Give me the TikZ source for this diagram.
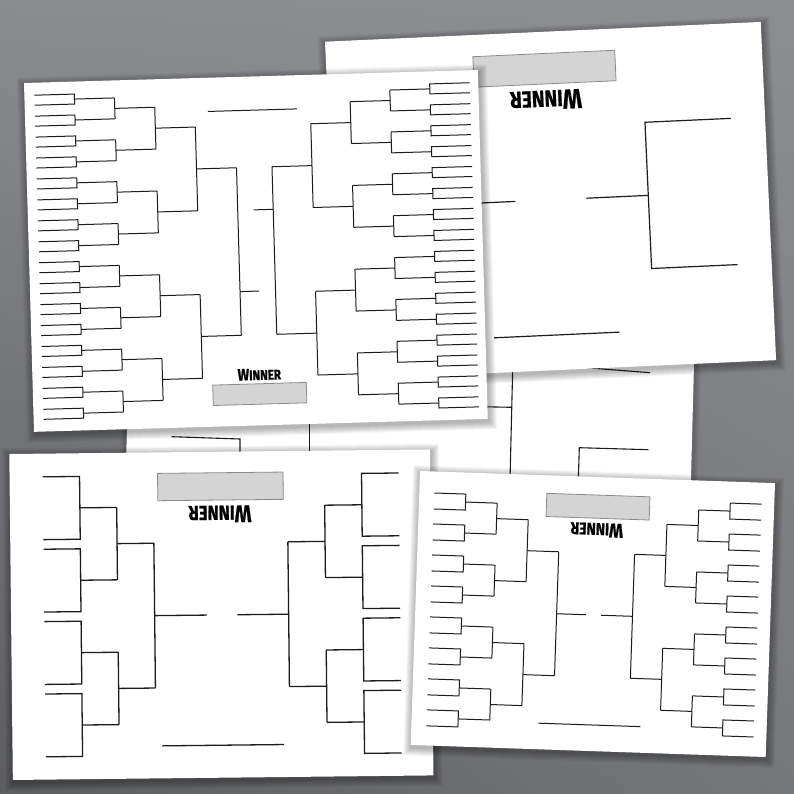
\documentclass[tikz,border=0pt]{standalone}
\usepackage{fontspec}
\usetikzlibrary{shadings}
\newfontfamily\winfont[FakeStretch=0.82,FakeBold=0.8]{Fira Sans}
\definecolor{ink}{HTML}{1C1C1C}
\definecolor{boxgray}{HTML}{D4D4D4}
\definecolor{boxedge}{HTML}{8A8A8A}
\definecolor{bgUL}{HTML}{8B8C90}
\definecolor{bgUR}{HTML}{8D8E92}
\definecolor{bgLL}{HTML}{5C5D60}
\definecolor{bgLR}{HTML}{76777A}
\tikzset{
  bl/.style={draw=ink,line width=1pt},
  gbox/.style={fill=boxgray,draw=boxedge,line width=0.8pt},
  wtext/.style={inner sep=0pt,transform shape,text=black}
}
% paper sheet with soft shadow, local coords (0,0)-(W,H)
\newcommand\paper[2]{%
  \foreach \s in {1,...,8}{\fill[black,opacity=0.04] ({-\s+1},{-\s+2.5}) rectangle ({#1+\s+1},{#2+\s+2.5});}%
  \fill[white] (0,0) rectangle (#1,#2);}
% WINNER in small caps style
\newcommand\winner[1]{\pgfmathsetmacro\wsz{0.85*#1}{\winfont\bfseries\fontsize{#1pt}{#1pt}\selectfont W\fontsize{\wsz pt}{\wsz pt}\selectfont INNER}}
% one side of a bracket: x0, dx, v0, pair pitch, in-pair gap, pairs, levels
\newcommand\bside[7]{%
  \pgfmathtruncatemacro\bnp{#6-1}%
  \foreach \m in {0,...,\bnp}{%
    \pgfmathsetmacro\ya{#3+#4*\m}%
    \pgfmathsetmacro\yb{\ya+#5}%
    \draw[bl] (#1,\ya) -- ++(#2,0) |- (#1,\yb);%
  }%
  \foreach \L in {1,...,#7}{%
    \pgfmathtruncatemacro\bcnt{#6/(2^(\L-1))-1}%
    \foreach \m in {0,...,\bcnt}{%
      \pgfmathsetmacro\xL{#1+\L*#2}%
      \pgfmathsetmacro\yL{#3+#5/2+#4*(2^(\L-1)*\m+(2^(\L-1)-1)/2)}%
      \draw[bl] (\xL,\yL) -- ++(#2,0);%
      \ifnum\L>1
        \pgfmathsetmacro\yA{#3+#5/2+#4*(2^(\L-2)*(2*\m)+(2^(\L-2)-1)/2)}%
        \pgfmathsetmacro\yB{#3+#5/2+#4*(2^(\L-2)*(2*\m+1)+(2^(\L-2)-1)/2)}%
        \draw[bl] (\xL,\yA) -- (\xL,\yB);%
      \fi
    }%
  }%
}
\begin{document}
\begin{tikzpicture}[x=1pt,y=-1pt]
\useasboundingbox (0,0) rectangle (794,794);
\shade[upper left=bgUL,upper right=bgUR,lower left=bgLL,lower right=bgLR] (0,0) rectangle (794,794);

% ---------- sheet E (behind, middle) ----------
\foreach \s in {1,...,6}{\fill[black,opacity=0.035] ({129.5-\s},{330-\s}) -- ({694.5+\s+1},{345-\s}) -- ({690.3+\s+1},{505+\s}) -- ({125.3-\s},{490+\s}) -- cycle;}
\fill[white] (129.5,330) -- (694.5,345) -- (690.3,505) -- (125.3,490) -- cycle;
\begin{scope}[bl/.style={draw=ink,line width=1.1pt}]
  \draw[bl] (171.7,436.7) -- (240,439) -- (240,460);
  \draw[bl] (309.3,420) -- (309.3,460);
  \draw[bl] (480,406.7) -- (511.7,407.3);
  \draw[bl] (512.9,360) -- (510,480);
  \draw[bl] (581,362) -- (581,367.3) -- (650,372.7);
  \draw[bl] (578.3,480) -- (579.3,447.7) -- (648.3,449.7);
\end{scope}

% ---------- sheet B (top right, upside-down design) ----------
\begin{scope}[shift={(325,41.7)},rotate=2.6,bl/.style={draw=ink,line width=1.2pt}]
  \paper{436.2}{338.6}
  \draw[gbox] (147,21.7) rectangle (289,52.2);
  \node[wtext,rotate=180] (wB) at (218.1,68.3) {\winner{27.4}};
  \draw[bl] (402,95) -- (316,95) -- (316,241.4) -- (402,241.4);
  \draw[bl] (316,168.2) -- (254,168.2);
  \draw[bl] (34,95) -- (120,95) -- (120,241.4) -- (34,241.4);
  \draw[bl] (120,168.2) -- (183,168.2);
  \draw[bl] (155.6,303.5) -- (281,303.5);
\end{scope}

% ---------- sheet A (top left, 64 teams) ----------
\begin{scope}[shift={(24,83)},rotate=1.64,bl/.style={draw=ink,line width=1pt}]
  \paper{454}{349}
  \bside{10}{40}{12.5}{20.95}{10}{16}{4}
  \bside{445.5}{-40}{12.5}{20.95}{10}{16}{4}
  \draw[bl] (210,90.8) -- (210,258.4);
  \draw[bl] (210,214.7) -- (229,214.7);
  \draw[bl] (245.5,90.8) -- (245.5,258.4);
  \draw[bl] (245.5,133.4) -- (226,133.4);
  \draw[bl] (183,33.7) -- (272,33.7);
  \draw[gbox] (180,307.4) rectangle (273.6,327.8);
  \node[wtext] (wA) at (226.9,297.9) {\winner{16.5}};
\end{scope}

% ---------- sheet C (bottom left, 16 teams) ----------
\begin{scope}[shift={(9.3,454)},rotate=0.62,bl/.style={draw=ink,line width=1.3pt}]
  \paper{420.7}{326}
  \bside{33.2}{36.8}{23.2}{72.4}{62.8}{4}{2}
  \bside{389.2}{-37.2}{23.2}{72.4}{62.8}{4}{2}
  \draw[bl] (143.6,90.8) -- (143.6,235.6);
  \draw[bl] (143.6,163.2) -- (195.7,163.2);
  \draw[bl] (277.6,90.8) -- (277.6,235.6);
  \draw[bl] (277.6,163.2) -- (226.3,163.2);
  \draw[bl] (150,293.5) -- (271.6,293.5);
  \draw[gbox] (148,21) rectangle (273.5,48.3);
  \node[wtext,rotate=180] (wC) at (210,62.3) {\winner{24}};
\end{scope}

% ---------- sheet D (bottom right, 32 teams) ----------
\begin{scope}[shift={(420,471)},rotate=-1.95,bl/.style={draw=ink,line width=1pt}]
  \paper{355.2}{274.1}
  \bside{15}{31.6}{21.5}{31}{16}{8}{3}
  \bside{342.5}{-31.3}{21.5}{31}{16}{8}{3}
  \draw[bl] (141.4,76) -- (141.4,200);
  \draw[bl] (141.4,138) -- (171,138);
  \draw[bl] (217.3,76) -- (217.3,200);
  \draw[bl] (217.3,138) -- (186,138);
  \draw[bl] (127,248) -- (229,248);
  \draw[gbox] (127.5,18) rectangle (230.7,41.2);
  \node[wtext,rotate=180] (wD) at (178.7,53) {\winner{20}};
\end{scope}
\end{tikzpicture}
\end{document}
